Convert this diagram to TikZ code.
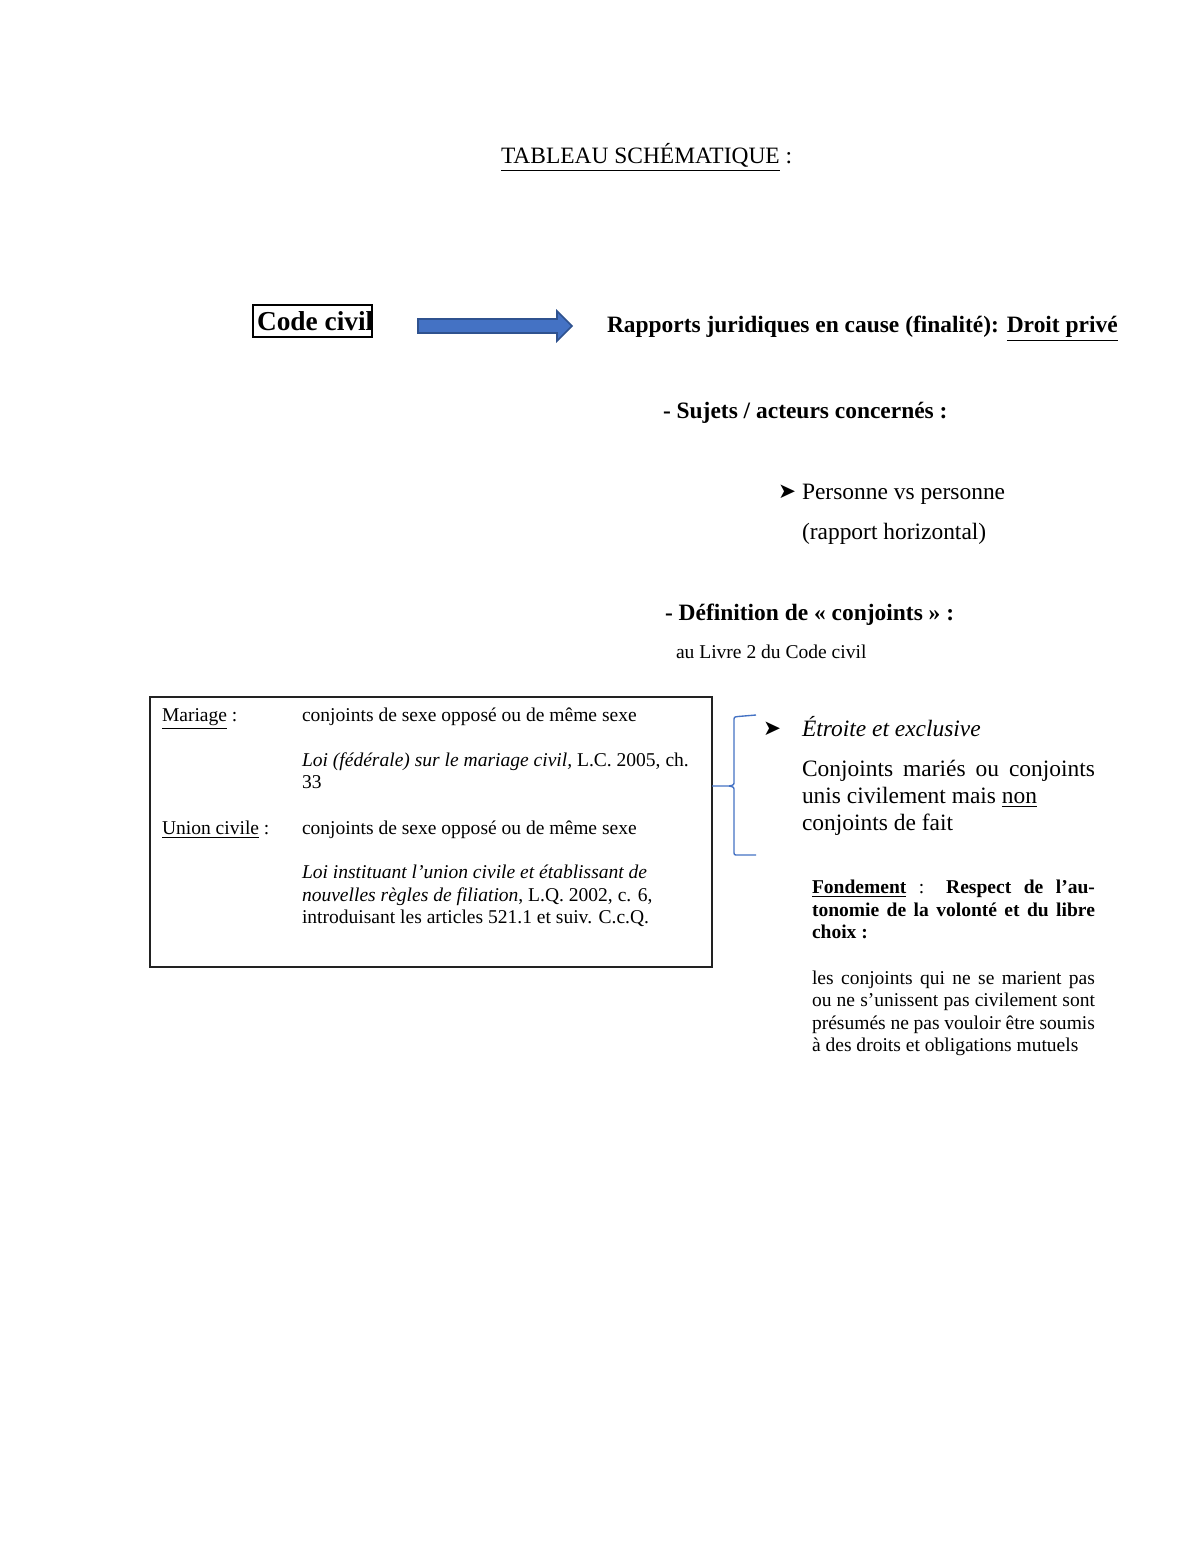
\documentclass[tikz,border=0pt]{standalone}
\usepackage{fontspec}
\setmainfont{Liberation Serif}
\newfontfamily\symfont{DejaVu Sans}
\definecolor{arrowfill}{HTML}{4472C4}
\definecolor{arrowline}{HTML}{2F528F}
\definecolor{boxline}{HTML}{222222}
\tikzset{
  txt/.style={anchor=base west, inner sep=0pt, outer sep=0pt},
  big/.style={txt, font=\fontsize{12}{14}\selectfont},
  small/.style={txt, font=\fontsize{10}{12}\selectfont},
  bracepath/.style={draw=arrowfill, line width=0.7bp},
}
\newcommand{\bul}{{\symfont\fontsize{11}{12}\selectfont\char"27A4}}
\begin{document}
\begin{tikzpicture}[x=0.51bp,y=-0.51bp]
\useasboundingbox (0,0) rectangle (1200,1553);
\fill[white] (0,0) rectangle (1200,1553);

% title
\node[big] (title) at (501,164) {\underline{TABLEAU SCHÉMATIQUE} :};

% Code civil box
\node[txt, font=\fontsize{14}{16}\bfseries\selectfont] (code) at (257,331) {Code civil};
\draw[line width=1.1bp] (253,305) rectangle (372,337);

% big arrow
\draw[fill=arrowfill, draw=arrowline, line width=0.8bp, line join=miter]
  (418,319) -- (557,319) -- (557,311) -- (572,326) -- (557,341) -- (557,333) -- (418,333) -- cycle;

% right heading
\node[big, font=\fontsize{12}{14}\bfseries\selectfont] (rapports) at (607,333)
  {Rapports juridiques en cause (finalité): \underline{Droit privé}};

\node[big, font=\fontsize{12}{14}\bfseries\selectfont] (sujets) at (663,419)
  {- Sujets / acteurs concernés :};

\node[big] (pbul) at (778,498) {\bul};
\node[big] (pers) at (802,499) {Personne vs personne};
\node[big] (horiz) at (802,539) {(rapport horizontal)};

\node[big, font=\fontsize{12}{14}\bfseries\selectfont] (defin) at (665,620)
  {- Définition de « conjoints » :};
\node[small] (livre) at (676,658) {au Livre 2 du Code civil};

% table box
\draw[draw=boxline, line width=0.7bp] (150,697) rectangle (712,967);
\node[small] (mar) at (162,721) {\underline{Mariage} :};
\node[small] (mar1) at (302,721) {conjoints de sexe opposé ou de même sexe};
\node[small] (mar2) at (302,766) {\textit{Loi (fédérale) sur le mariage civil,} L.C. 2005, ch.};
\node[small] (mar3) at (302,788) {33};
\node[small] (uni) at (162,834) {\underline{Union civile} :};
\node[small] (uni1) at (302,834) {conjoints de sexe opposé ou de même sexe};
\node[small] (uni2) at (302,878) {\textit{Loi instituant l’union civile et établissant de}};
\node[small] (uni3) at (302,901) {\textit{nouvelles règles de filiation},\ L.Q. 2002, c. 6,};
\node[small] (uni4) at (302,923) {introduisant les articles 521.1 et suiv. C.c.Q.};

% brace
\coordinate (bmid) at (712,786);
\draw[bracepath] (756,715) -- (738,716.5) .. controls (734,717) .. (734,721) -- (734,781)
  .. controls (734,785) .. (729,786) -- (bmid);
\draw[bracepath] (729,786) .. controls (734,787) .. (734,791) -- (734,851)
  .. controls (734,855) .. (738,855) -- (756,855);

% right column
\node[big] (ebul) at (763,735) {\bul};
\node[big] (etr) at (802,736) {\textit{Étroite et exclusive}};
\node[big] (c1) at (802,776) {\makebox[149.4bp][s]{Conjoints mariés ou conjoints}};
\node[big] (c2) at (802,803) {unis civilement mais \underline{non}};
\node[big] (c3) at (802,830) {conjoints de fait};

\node[small] (f1) at (812,893) {\makebox[144.3bp][s]{\textbf{\underline{Fondement}} : \textbf{Respect de l’au-}}};
\node[small] (f2) at (812,916) {\makebox[144.3bp][s]{\textbf{tonomie de la volonté et du libre}}};
\node[small] (f3) at (812,938) {\textbf{choix :}};

\node[small] (l1) at (812,984) {\makebox[144.3bp][s]{les conjoints qui ne se marient pas}};
\node[small] (l2) at (812,1006) {\makebox[144.3bp][s]{ou ne s’unissent pas civilement sont}};
\node[small] (l3) at (812,1029) {\makebox[144.3bp][s]{présumés ne pas vouloir être soumis}};
\node[small] (l4) at (812,1051) {à des droits et obligations mutuels};
\end{tikzpicture}
\end{document}
